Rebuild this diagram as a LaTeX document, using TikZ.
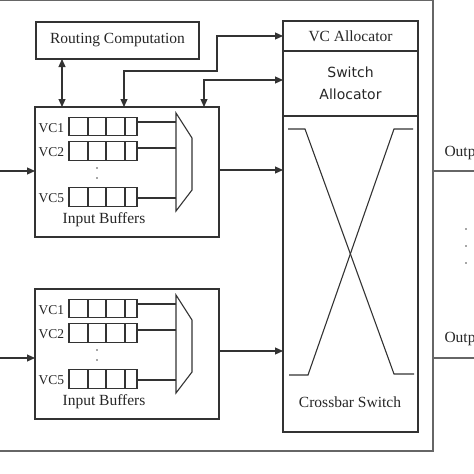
\documentclass[tikz,border=0pt]{standalone}
\usepackage{fontspec}
\setmainfont{Liberation Serif}
\newfontfamily\allocsans{DejaVu Sans}
\usetikzlibrary{arrows.meta}
\begin{document}
\begin{tikzpicture}[x=1pt,y=-1pt,
  line width=1.1pt,
  box/.style={draw=black!80, line width=1.1pt, inner sep=0pt, outer sep=0pt},
  lbl/.style={font=\fontsize{15.5}{18}\selectfont, text=black!85},
  vclbl/.style={font=\fontsize{13.5}{16}\selectfont, text=black!85, anchor=west, inner sep=0pt},
  qbox/.style={box, minimum width=68pt, minimum height=18.5pt},
  wire/.style={draw=black!80, line width=1.1pt},
  frame/.style={draw=black!60, line width=1.3pt},
  tipped/.style={wire, -{Triangle[length=8pt,width=7pt]}},
  tipboth/.style={wire, {Triangle[length=8pt,width=7pt]}-{Triangle[length=8pt,width=7pt]}}
]
\useasboundingbox (0,0) rectangle (474,474);
% outer frame
\coordinate (fTL) at (-5,0.8);
\coordinate (fTR) at (433,0.8);
\coordinate (fBR) at (433,451);
\coordinate (fBL) at (-5,451);
\draw[frame] (fTL) -- (fTR) -- (fBR) -- (fBL);

% main blocks
\node[box, lbl, minimum width=163pt, minimum height=37pt] (rc) at (117.5,40.5) {Routing Computation};
\node[box, minimum width=184pt, minimum height=130pt] (ib1) at (127,172) {};
\node[box, minimum width=184pt, minimum height=130pt] (ib2) at (127,354) {};
\node[box, lbl, minimum width=135pt, minimum height=30pt] (vca) at (350.5,36) {VC Allocator};
\node[box, minimum width=135pt, minimum height=65pt, align=center,
      font=\allocsans\fontsize{14}{22}\selectfont, text=black!85] (sa) at (350.5,83.5) {Switch\\Allocator};
\node[box, minimum width=135pt, minimum height=316pt] (cb) at (350.5,274) {};
\node[lbl] (cbl) at (350,402) {Crossbar Switch};

% crossbar X
\draw[wire] (288,129) -- (305,129) -- (394,374) -- (414,374);
\draw[wire] (413,129) -- (394,129) -- (308,375) -- (289,375);

% input buffers contents
\foreach \b/\dy in {1/0,2/182}{
  \node[qbox] (q\b a) at (103,126.5+\dy) {};
  \node[qbox] (q\b b) at (103,151+\dy) {};
  \node[qbox] (q\b c) at (103,197+\dy) {};
  \foreach \q in {a,b,c}{
    \foreach \cx in {88,106,125}{
      \draw[wire] (\cx,0 |- q\b\q.north) -- (\cx,0 |- q\b\q.south);
    }
  }
  \node[vclbl] (l\b a) at (38,128+\dy) {VC1};
  \node[vclbl] (l\b b) at (38,152+\dy) {VC2};
  \node[vclbl] (l\b c) at (38,198+\dy) {VC5};
  \fill[black!70] (97,168+\dy) circle (0.8pt) (97,178+\dy) circle (0.8pt);
  % multiplexer
  \coordinate (m\b t) at (176,113+\dy);
  \coordinate (m\b b) at (176,211+\dy);
  \draw[wire] (m\b t) -- (192,138+\dy) -- (192,190+\dy) -- (m\b b) -- cycle;
  \draw[wire] (q\b a.east |- 0,122+\dy) -- (m\b t |- 0,122+\dy);
  \draw[wire] (q\b b.east |- 0,148+\dy) -- (m\b t |- 0,148+\dy);
  \draw[wire] (q\b c.east |- 0,198+\dy) -- (m\b t |- 0,198+\dy);
  \node[lbl] (ibl\b) at (104,220+\dy) {Input Buffers};
}

% control connections
\coordinate (rcx) at (62,0);
\draw[tipboth] (rc.south -| rcx) -- (ib1.north -| rcx);
\coordinate (v1) at (217,36);
\coordinate (v2) at (217,71);
\coordinate (v3) at (124,71);
\draw[tipboth] (vca.west) -- (v1) -- (v2) -- (v3) -- (ib1.north -| v3);
\coordinate (s0) at (283,80);
\coordinate (s1) at (204,80);
\draw[tipboth] (sa.west |- s0) -- (s1) -- (ib1.north -| s1);

% data paths
\coordinate (in1) at (-2,171);
\coordinate (in2) at (-2,358);
\draw[tipped] (in1) -- (ib1.west |- in1);
\draw[tipped] (in2) -- (ib2.west |- in2);
\coordinate (d1) at (0,170);
\coordinate (d2) at (0,351);
\draw[tipped] (ib1.east |- d1) -- (cb.west |- d1);
\draw[tipped] (ib2.east |- d2) -- (cb.west |- d2);

% outputs
\coordinate (o1) at (480,171);
\coordinate (o2) at (480,358);
\draw[frame] (fTR |- o1) -- (o1);
\draw[frame] (fTR |- o2) -- (o2);
\node[lbl, anchor=west, inner sep=0pt] (ot1) at (444,153) {Output};
\node[lbl, anchor=west, inner sep=0pt] (ot2) at (444,339) {Output};
\fill[black!70] (466,229) circle (0.9pt) (466,246) circle (0.9pt) (466,263) circle (0.9pt);
\end{tikzpicture}
\end{document}
